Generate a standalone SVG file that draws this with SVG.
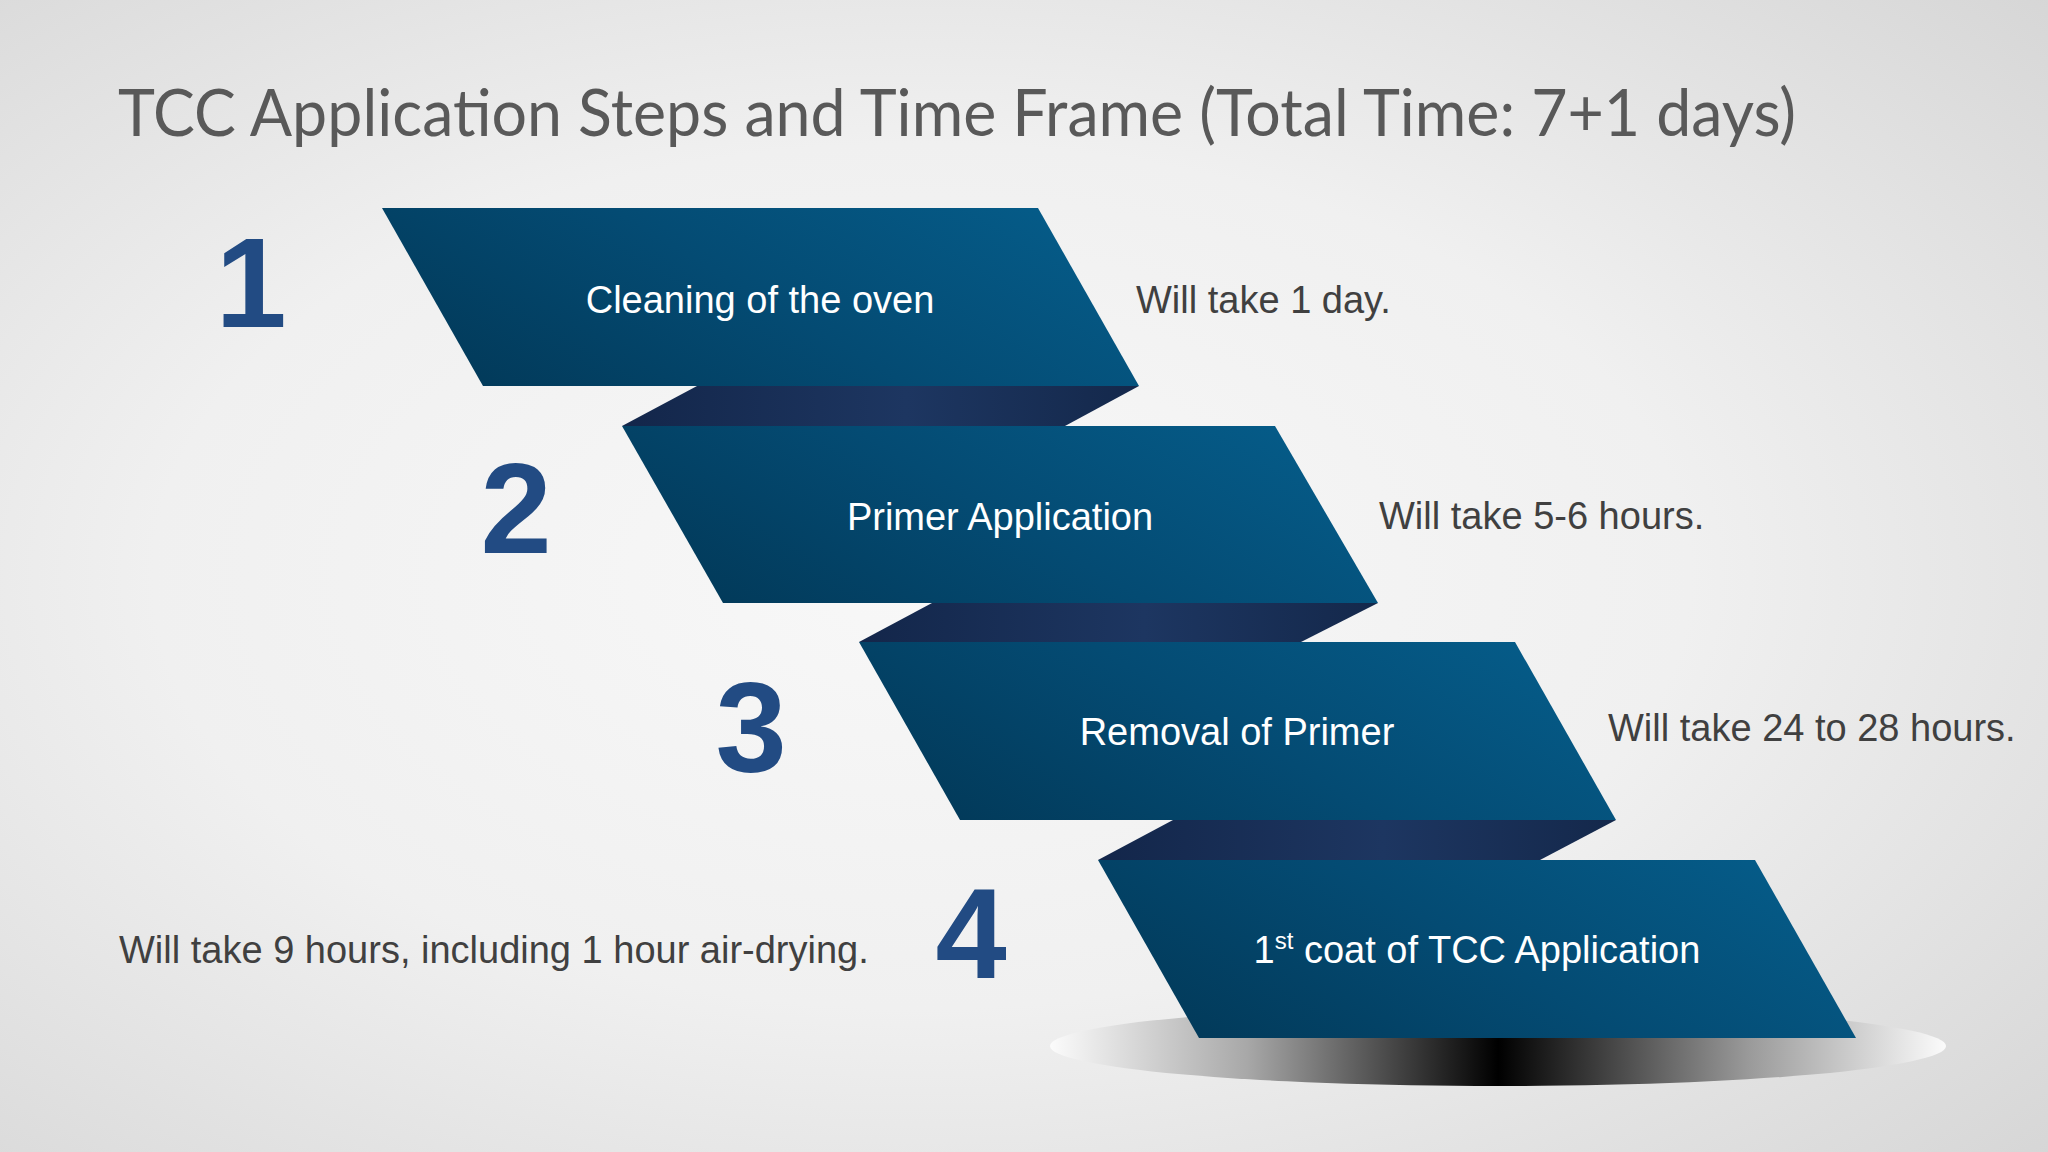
<svg xmlns="http://www.w3.org/2000/svg" width="2048" height="1152" viewBox="0 0 2048 1152">
  <defs>
    <radialGradient id="bg" cx="0.45" cy="0.5" r="0.75">
      <stop offset="0" stop-color="#f8f8f8"/>
      <stop offset="0.5" stop-color="#f0f0f0"/>
      <stop offset="1" stop-color="#d6d6d6"/>
    </radialGradient>
    <linearGradient id="boxFill" x1="0" y1="0.7" x2="1" y2="0.3">
      <stop offset="0" stop-color="#023a5a"/>
      <stop offset="0.5" stop-color="#044b73"/>
      <stop offset="1" stop-color="#055b88"/>
    </linearGradient>
    <linearGradient id="foldFill" x1="0" y1="0" x2="1" y2="0">
      <stop offset="0" stop-color="#13264a"/>
      <stop offset="0.55" stop-color="#1d3661"/>
      <stop offset="1" stop-color="#14284b"/>
    </linearGradient>
    <linearGradient id="shadowFill" x1="0" y1="0" x2="1" y2="0">
      <stop offset="0" stop-color="#fbfbfb"/>
      <stop offset="0.22" stop-color="#a8a8a8"/>
      <stop offset="0.5" stop-color="#000000"/>
      <stop offset="0.78" stop-color="#9a9a9a"/>
      <stop offset="1" stop-color="#fbfbfb"/>
    </linearGradient>
    <style>
      .title { font-family: Lato, "Open Sans", sans-serif; font-size: 66px; fill: #595959; }
      .num { font-family: "Liberation Sans", Arial, sans-serif; font-weight: bold; font-size: 128px; fill: #224b83; text-anchor: middle; }
      .label { font-family: "Liberation Sans", Arial, sans-serif; font-size: 38px; fill: #ffffff; text-anchor: middle; }
      .note { font-family: "Liberation Sans", Arial, sans-serif; font-size: 38px; fill: #404040; }
      .box { fill: url(#boxFill); }
      .fold { fill: url(#foldFill); }
    </style>
  </defs>

  <rect x="0" y="0" width="2048" height="1152" fill="url(#bg)"/>

  <text class="title" x="118" y="136" textLength="1678" lengthAdjust="spacingAndGlyphs">TCC Application Steps and Time Frame (Total Time: 7+1 days)</text>

  <ellipse id="shadow" cx="1498" cy="1046" rx="448" ry="40" fill="url(#shadowFill)"/>

  <g id="connectors">
    <polygon class="fold" points="697,386 1139,386 1065,426 622,426"/>
    <polygon class="fold" points="932,603 1378,603 1301,642 859,642"/>
    <polygon class="fold" points="1173,820 1616,820 1540,860 1098,860"/>
  </g>

  <g id="step1">
    <polygon class="box" points="382,208 1038,208 1139,386 483,386"/>
    <text class="label" x="760" y="313">Cleaning of the oven</text>
    <text class="num" x="251" y="327">1</text>
    <text class="note" x="1136" y="313">Will take 1 day.</text>
  </g>

  <g id="step2">
    <polygon class="box" points="622,426 1275,426 1378,603 723,603"/>
    <text class="label" x="1000" y="530">Primer Application</text>
    <text class="num" x="516" y="553">2</text>
    <text class="note" x="1379" y="529">Will take 5-6 hours.</text>
  </g>

  <g id="step3">
    <polygon class="box" points="859,642 1515,642 1616,820 960,820"/>
    <text class="label" x="1237" y="745">Removal of Primer</text>
    <text class="num" x="751" y="772">3</text>
    <text class="note" x="1608" y="741">Will take 24 to 28 hours.</text>
  </g>

  <g id="step4">
    <polygon class="box" points="1098,860 1755,860 1856,1038 1199,1038"/>
    <text class="label" x="1477" y="963">1<tspan font-size="24px" dy="-14">st</tspan><tspan dy="14"> coat of TCC Application</tspan></text>
    <text class="num" x="971" y="978">4</text>
    <text class="note" x="119" y="963">Will take 9 hours, including 1 hour air-drying.</text>
  </g>
</svg>
